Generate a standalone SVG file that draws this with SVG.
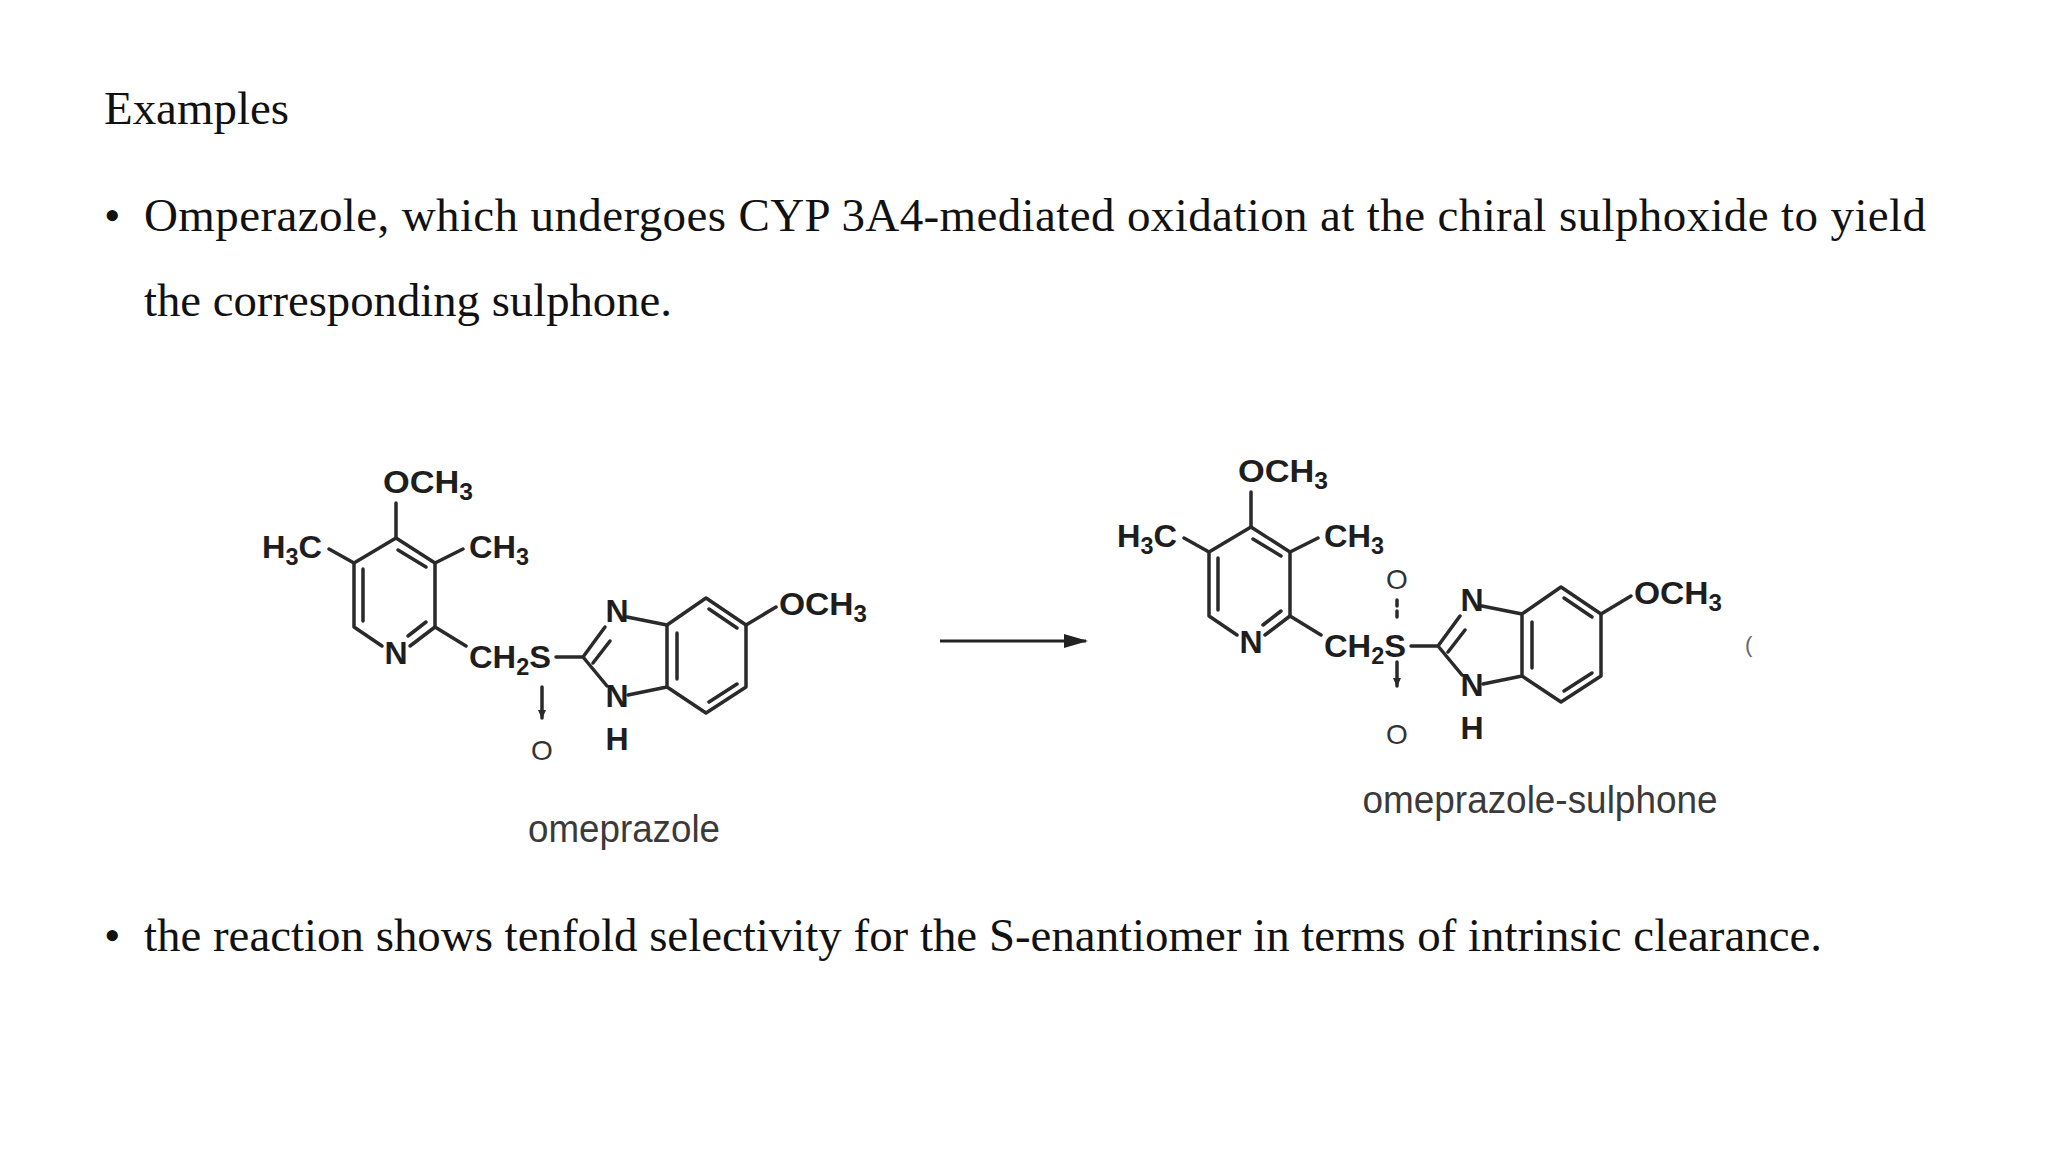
<svg xmlns="http://www.w3.org/2000/svg" width="2048" height="1152" viewBox="0 0 2048 1152">
<style>
.t{font-family:"Liberation Serif","Times New Roman",serif;font-size:47px;fill:#111}
.b{stroke:#2a2a2a;stroke-width:3.5;fill:none;stroke-linecap:round;stroke-linejoin:round}
.l{font-family:"Liberation Sans",Arial,sans-serif;font-weight:bold;font-size:32px;fill:#1e1e1e}
.o{font-family:"Liberation Sans",Arial,sans-serif;font-size:28px;fill:#333}
.s{font-size:23px}
.c{font-family:"Liberation Sans",Arial,sans-serif;font-size:38px;fill:#3a3a3a}
</style>
<defs>
<marker id="ah" markerWidth="10" markerHeight="10" refX="8" refY="5" orient="auto" markerUnits="userSpaceOnUse"><path d="M0,1 L9,5 L0,9 Z" fill="#2a2a2a"/></marker>
<marker id="ra" markerWidth="24" markerHeight="16" refX="22" refY="8" orient="auto" markerUnits="userSpaceOnUse"><path d="M0,1 L24,8 L0,15 Z" fill="#222"/></marker>
<g id="core">
<path class="b" d="M382,646 L354,627 L354,563 L396,538 L435,563 L435,627 L410,646"/>
<path class="b" d="M398,550 L426,567 M426,622 L408,636 M363,569 L363,621"/>
<path class="b" d="M396,538 L396,503 M354,563 L329,549 M435,563 L463,549 M435,627 L466,646"/>
<path class="b" d="M556,657 L583,657 L605,627 M593,663 L610,641 M627,617 L667,625 L706,598 L746,625 L746,687 L706,713 L667,687 L667,625 M667,687 L628,695 M607,686 L583,657"/>
<path class="b" d="M677,633 L677,679 M709,609 L737,628 M737,684 L709,702 M746,625 L776,607"/>
<text class="l" x="383" y="493" textLength="90" lengthAdjust="spacingAndGlyphs">OCH<tspan class="s" dy="7">3</tspan></text>
<text class="l" x="262" y="558" textLength="60" lengthAdjust="spacingAndGlyphs">H<tspan class="s" dy="7">3</tspan><tspan dy="-7">C</tspan></text>
<text class="l" x="469" y="558" textLength="60" lengthAdjust="spacingAndGlyphs">CH<tspan class="s" dy="7">3</tspan></text>
<text class="l" x="396" y="664" text-anchor="middle">N</text>
<text class="l" x="469" y="668" textLength="82" lengthAdjust="spacingAndGlyphs">CH<tspan class="s" dy="7">2</tspan><tspan dy="-7">S</tspan></text>
<text class="l" x="617" y="622" text-anchor="middle">N</text>
<text class="l" x="617" y="707" text-anchor="middle">N</text>
<text class="l" x="617" y="750" text-anchor="middle">H</text>
<text class="l" x="779" y="615" textLength="88" lengthAdjust="spacingAndGlyphs">OCH<tspan class="s" dy="7">3</tspan></text>
</g>
</defs>
<text class="t" x="104" y="124" style="font-size:46px" textLength="185" lengthAdjust="spacingAndGlyphs">Examples</text>
<text class="t" x="104" y="231">•</text>
<text class="t" x="144" y="231" textLength="1782" lengthAdjust="spacing">Omperazole, which undergoes CYP 3A4-mediated oxidation at the chiral sulphoxide to yield</text>
<text class="t" x="144" y="316" textLength="528" lengthAdjust="spacingAndGlyphs">the corresponding sulphone.</text>
<text class="t" x="104" y="951">•</text>
<text class="t" x="144" y="951" textLength="1678" lengthAdjust="spacingAndGlyphs">the reaction shows tenfold selectivity for the S-enantiomer in terms of intrinsic clearance.</text>
<g id="omeprazole">
<use href="#core"/>
<line class="b" x1="542" y1="687" x2="542" y2="718" marker-end="url(#ah)"/>
<text class="o" x="542" y="760" text-anchor="middle">O</text>
<text class="c" x="624" y="842" text-anchor="middle" textLength="192" lengthAdjust="spacingAndGlyphs">omeprazole</text>
</g>
<g id="connectors">
<line x1="940" y1="641" x2="1086" y2="641" stroke="#222" stroke-width="3" marker-end="url(#ra)"/>
</g>
<g id="omeprazole-sulphone">
<use href="#core" transform="translate(855,-11)"/>
<text class="o" x="1397" y="589" text-anchor="middle">O</text>
<line class="b" x1="1397" y1="600" x2="1397" y2="622" stroke-dasharray="6,5"/>
<line class="b" x1="1397" y1="662" x2="1397" y2="686" marker-end="url(#ah)"/>
<text class="o" x="1397" y="744" text-anchor="middle">O</text>
<text class="c" x="1540" y="813" text-anchor="middle" textLength="355" lengthAdjust="spacingAndGlyphs">omeprazole-sulphone</text>
<text class="o" x="1745" y="652" style="font-size:22px;fill:#666">(</text>
</g>
</svg>
